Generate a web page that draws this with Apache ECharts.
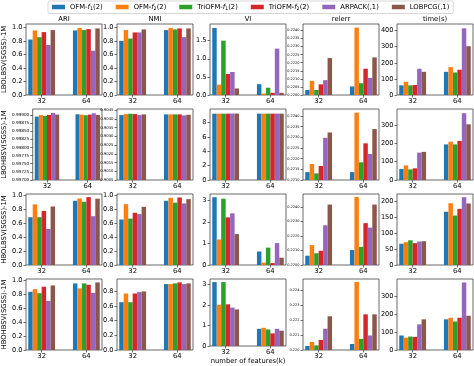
<!DOCTYPE html>
<html><head><meta charset="utf-8">
<script src="https://cdn.jsdelivr.net/npm/echarts@6/dist/echarts.min.js"></script>
<style>html,body{margin:0;padding:0;background:#fff}#c{width:474px;height:366px}</style>
</head><body><div id="c"></div>
<script>
const categories = ['32', '64'];
const seriesNames = ['OFM-f1(2)', 'OFM-f2(2)', 'TriOFM-f1(2)', 'TriOFM-f2(2)', 'ARPACK(,1)', 'LOBPCG(,1)'];
const colors = ['#1f77b4', '#ff7f0e', '#2ca02c', '#d62728', '#9467bd', '#8c564b'];
const rowNames = ['LBOLBSV(SGSS)-1M', 'LBOHBSV(SGSS)-1M', 'HBOLBSV(SGSS)-1M', 'HBOHBSV(SGSS)-1M'];
const metricNames = ['ARI', 'NMI', 'VI', 'relerr', 'time(s)'];

// each metric: one entry per row = [ values at k=32 (6 series), values at k=64 (6 series) ]
const ARI = [
  [[0.82, 0.955, 0.855, 0.93, 0.74, 0.96], [0.955, 0.99, 0.96, 0.975, 0.655, 0.985]],
  [[0.998947, 0.998998, 0.998967, 0.998998, 0.999059, 0.999008], [0.999018, 0.999008, 0.998988, 0.999008, 0.999049, 0.998998]],
  [[0.69, 0.875, 0.69, 0.78, 0.52, 0.845], [0.927, 0.96, 0.913, 0.98, 0.705, 0.957]],
  [[0.832, 0.87, 0.812, 0.904, 0.702, 0.923], [0.952, 0.88, 0.952, 0.933, 0.817, 0.966]]
];
const NMI = [
  [[0.80, 0.96, 0.835, 0.925, 0.925, 0.97], [0.96, 0.99, 0.97, 0.985, 0.855, 0.985]],
  [[0.904214, 0.904271, 0.90429, 0.904271, 0.904214, 0.904252], [0.904252, 0.904252, 0.904252, 0.904252, 0.904195, 0.904233]],
  [[0.657, 0.879, 0.67, 0.754, 0.735, 0.84], [0.927, 0.97, 0.90, 0.975, 0.889, 0.951]],
  [[0.653, 0.772, 0.653, 0.772, 0.791, 0.80], [0.901, 0.901, 0.91, 0.924, 0.901, 0.91]]
];
const VI = [
  [[1.85, 0.285, 1.5, 0.58, 0.635, 0.18], [0.30, 0.04, 0.2, 0.06, 1.28, 0.06]],
  [[9.25, 9.25, 9.25, 9.25, 9.27, 9.26], [9.25, 9.25, 9.25, 9.25, 9.26, 9.25]],
  [[3.16, 1.19, 3.09, 2.22, 2.41, 1.44], [0.63, 0.11, 0.81, 0.09, 1.02, 0.34]],
  [[3.13, 2.02, 3.13, 2.04, 1.88, 1.79], [0.84, 0.89, 0.81, 0.62, 0.84, 0.75]]
];
const relerr = [
  [[0.22031, 0.22088, 0.22031, 0.22066, 0.22092, 0.22229], [0.22053, 0.22418, 0.22073, 0.22163, 0.22106, 0.22233]],
  [[0.22137, 0.22175, 0.22131, 0.22166, 0.22298, 0.22323], [0.22137, 0.22416, 0.22183, 0.22272, 0.22222, 0.22339]],
  [[0.22064, 0.22137, 0.22081, 0.22098, 0.22274, 0.22417], [0.22103, 0.22470, 0.22125, 0.22289, 0.22258, 0.22417]],
  [[0.22027, 0.22054, 0.22031, 0.22067, 0.22142, 0.22225], [0.22040, 0.22454, 0.22074, 0.22238, 0.22097, 0.22238]]
];
const time = [
  [[60, 82, 60, 62, 163, 144], [144, 173, 140, 157, 414, 303]],
  [[60, 80, 58, 64, 150, 154], [195, 210, 195, 214, 366, 305]],
  [[67, 72, 78, 69, 74, 75], [168, 195, 156, 177, 214, 194]],
  [[81, 69, 75, 73, 143, 171], [171, 180, 159, 180, 377, 191]]
];

// y tick labels per row
const six = ['0.0', '0.2', '0.4', '0.6', '0.8', '1.0'];
const ARI_ticks = [six, ['0.99700', '0.99725', '0.99750', '0.99775', '0.99800', '0.99825', '0.99850', '0.99875', '0.99900'], six, six];
const NMI_ticks = [six, ['0.9005', '0.9010', '0.9015', '0.9020', '0.9025', '0.9030', '0.9035', '0.9040', '0.9045'], six, ['0.0', '0.2', '0.4', '0.6', '0.8']];
const VI_ticks = [['0.0', '0.5', '1.0', '1.5'], ['0', '2', '4', '6', '8'], ['0', '1', '2', '3'], ['0', '1', '2', '3']];
const relerr_ticks = [
  ['0.2200', '0.2205', '0.2210', '0.2215', '0.2220', '0.2225', '0.2230', '0.2235', '0.2240'],
  ['0.2210', '0.2215', '0.2220', '0.2225', '0.2230', '0.2235', '0.2240'],
  ['0.2200', '0.2210', '0.2220', '0.2230', '0.2240'],
  ['0.220', '0.221', '0.222', '0.223', '0.224']
];
const time_ticks = [['0', '100', '200', '300', '400'], ['0', '100', '200', '300'], ['0', '50', '100', '150', '200'], ['0', '100', '200', '300']];

// y axis ranges per row
const ARI_range = [[0, 1.05], [0.997, 0.99918], [0, 1.025], [0, 1.015]];
const NMI_range = [[0, 1.05], [0.9005, 0.90456], [0, 1.025], [0, 0.97]];
const VI_range = [[0, 1.96], [0, 9.9], [0, 3.31], [0, 3.28]];
const relerr_range = [[0.2200, 0.2244], [0.2210, 0.22433], [0.2200, 0.2249], [0.2200, 0.22474]];
const time_range = [[0, 441], [0, 389], [0, 224], [0, 396]];

const metrics = [ARI, NMI, VI, relerr, time];
const metricTicks = [ARI_ticks, NMI_ticks, VI_ticks, relerr_ticks, time_ticks];
const metricRanges = [ARI_range, NMI_range, VI_range, relerr_range, time_range];

// layout
const FONT = 'DejaVu Sans';
const lefts = [26, 117, 210, 303, 397];
const tops = [24, 109, 194, 279];
const W = 76, H = 71;
const labelSize = [
  [6.6, 6.6, 6.6, 3.5, 6.6],
  [4.2, 3.8, 6.6, 3.5, 6.6],
  [6.6, 6.6, 6.6, 3.5, 6.6],
  [6.6, 6.6, 6.6, 3.5, 6.6]
];

const grids = [], xAxes = [], yAxes = [], series = [], graphics = [];
for (let r = 0; r < 4; r++) {
  for (let c = 0; c < 5; c++) {
    const idx = r * 5 + c;
    const ticks = metricTicks[c][r];
    const tv = ticks.map(Number);
    const rng = metricRanges[c][r];
    grids.push({left: lefts[c], top: tops[r], width: W, height: H, show: true,
      borderColor: '#444', borderWidth: 0.8, backgroundColor: 'transparent'});
    const xa = {
      gridIndex: idx, type: 'value', min: -0.35, max: 1.35, position: 'bottom',
      axisLine: {show: false, onZero: false}, splitLine: {show: false},
      axisTick: {show: true, customValues: [0, 1], length: 2.5, lineStyle: {color: '#333', width: 0.7}},
      axisLabel: {customValues: [0, 1], formatter: v => categories[Math.round(v)] || '',
        fontSize: 6.8, color: '#000', fontFamily: FONT, margin: 3}
    };
    if (r === 3 && c === 2) {
      xa.name = 'number of features(k)';
      xa.nameLocation = 'middle';
      xa.nameGap = 12;
      xa.nameTextStyle = {fontSize: 6.8, color: '#000', fontFamily: FONT};
    }
    xAxes.push(xa);
    const ya = {
      gridIndex: idx, type: 'value', min: rng[0], max: rng[1], position: 'left',
      axisLine: {show: false, onZero: false}, splitLine: {show: false},
      axisTick: {show: true, customValues: tv, length: 2.5, lineStyle: {color: '#333', width: 0.7}},
      axisLabel: {customValues: tv, fontSize: labelSize[r][c], color: '#000', fontFamily: FONT, margin: 3.5,
        formatter: v => { const t = ticks.find(s => Math.abs(Number(s) - v) < 1e-9); return t === undefined ? '' : t; }}
    };
    if (c === 0) {
      ya.name = rowNames[r];
      ya.nameLocation = 'middle';
      ya.nameRotate = 90;
      ya.nameGap = 15;
      ya.nameTextStyle = {fontSize: 6.8, color: '#000', fontFamily: FONT};
    }
    yAxes.push(ya);
    for (let s = 0; s < 6; s++) {
      series.push({
        type: 'bar', name: seriesNames[s], xAxisIndex: idx, yAxisIndex: idx,
        data: categories.map((k, ki) => [ki, metrics[c][r][ki][s]]),
        itemStyle: {color: colors[s]}, barGap: '0%', barCategoryGap: '40%', clip: true,
        emphasis: {disabled: true}
      });
    }
  }
}
for (let c = 0; c < 5; c++) {
  graphics.push({type: 'text', x: lefts[c] + W / 2, y: 19.5,
    style: {text: metricNames[c], fontSize: 6.8, fontFamily: FONT, fill: '#000', textAlign: 'center', textVerticalAlign: 'middle'}});
}

const chart = echarts.init(document.getElementById('c'), null, {renderer: 'canvas'});
chart.setOption({
  animation: false,
  color: colors,
  grid: grids, xAxis: xAxes, yAxis: yAxes, series: series, graphic: graphics,
  legend: {
    data: seriesNames, top: 1, left: 48, itemWidth: 13, itemHeight: 4.5, itemGap: 13,
    icon: 'rect', padding: [2.5, 4], borderColor: '#ccc', borderWidth: 0.8, borderRadius: 2,
    textStyle: {fontSize: 6.8, fontFamily: FONT, color: '#000',
      rich: {
        i: {fontStyle: 'italic', fontSize: 6.8, fontFamily: FONT, color: '#000'},
        s: {fontSize: 4.8, fontFamily: FONT, color: '#000', padding: [3, 0, 0, 0]}
      }},
    formatter: n => n.replace(/f(\d)/, '{i|f}{s|$1}')
  }
});
</script></body></html>
